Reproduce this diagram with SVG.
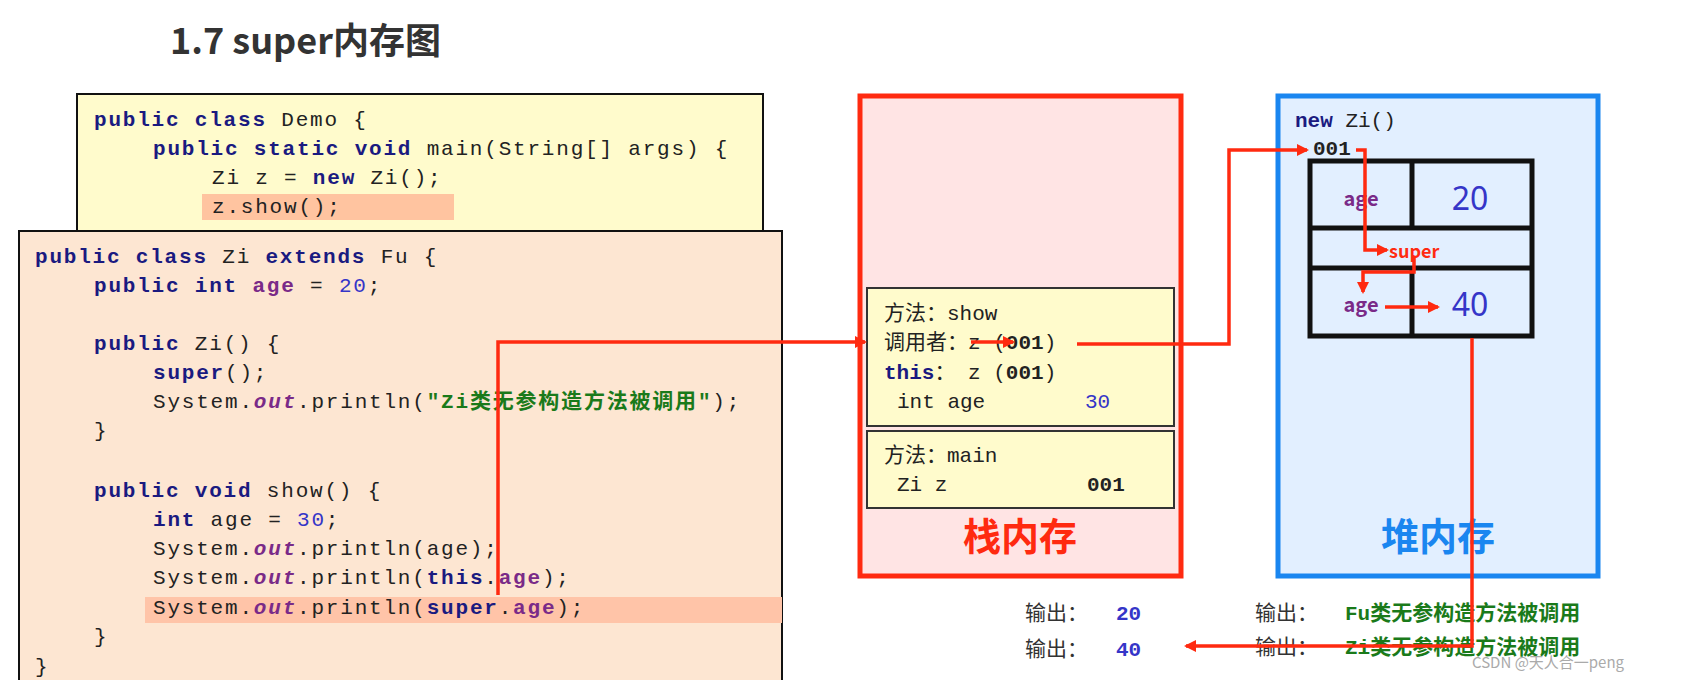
<svg xmlns="http://www.w3.org/2000/svg" width="1682" height="680" viewBox="0 0 1682 680">
<defs>
<marker id="ah" markerWidth="12" markerHeight="12" refX="10" refY="6" orient="auto" markerUnits="userSpaceOnUse"><path d="M0,0 L12,6 L0,12 z" fill="#ff2a10"/></marker>
<style>
.code{font-family:"Liberation Mono","Noto Sans CJK SC",monospace;font-size:21px;letter-spacing:1.8px;fill:#222}
.fr{font-family:"Liberation Mono","Noto Sans CJK SC",monospace;font-size:21px;fill:#222}
.out{font-family:"Noto Sans CJK SC",sans-serif;font-size:21px;fill:#333}
.k{fill:#1a1a80;font-weight:bold}
.p{fill:#7a2a88;font-weight:bold}
.o{fill:#7a2a88;font-style:italic;font-weight:bold}
.n{fill:#3535c8}
.g{fill:#1a7a1a;font-weight:bold}
.arr{fill:none;stroke:#ff2a10;stroke-width:3.5}
</style>
</defs>
<rect width="1682" height="680" fill="#fff"/>
<text x="170" y="54" font-family="Noto Sans CJK SC,sans-serif" font-size="36" font-weight="bold" fill="#333">1.7 super内存图</text>

<g id="demo">
<rect x="77" y="94" width="686" height="140" fill="#fffbcc" stroke="#111" stroke-width="2"/>
<rect x="202" y="194" width="252" height="26" fill="#ffc4a0"/>
<text class="code" x="94" y="126"><tspan class="k">public class</tspan> Demo {</text>
<text class="code" x="153" y="155"><tspan class="k">public static void</tspan> main(String[] args) {</text>
<text class="code" x="212" y="184">Zi z = <tspan class="k">new</tspan> Zi();</text>
<text class="code" x="212" y="213">z.show();</text>
</g>

<g id="zi">
<rect x="19" y="231" width="763" height="460" fill="#fde6d2" stroke="#111" stroke-width="2"/>
<rect x="145" y="597" width="637" height="26" fill="#ffc4a8"/>
<text class="code" x="35" y="263"><tspan class="k">public class</tspan> Zi <tspan class="k">extends</tspan> Fu {</text>
<text class="code" x="94" y="292"><tspan class="k">public int</tspan> <tspan class="p">age</tspan> = <tspan class="n">20</tspan>;</text>
<text class="code" x="94" y="350"><tspan class="k">public</tspan> Zi() {</text>
<text class="code" x="153" y="379"><tspan class="k">super</tspan>();</text>
<text class="code" x="153" y="408">System.<tspan class="o">out</tspan>.println(<tspan class="g">"Zi类无参构造方法被调用"</tspan>);</text>
<text class="code" x="94" y="437">}</text>
<text class="code" x="94" y="497"><tspan class="k">public void</tspan> show() {</text>
<text class="code" x="153" y="526"><tspan class="k">int</tspan> age = <tspan class="n">30</tspan>;</text>
<text class="code" x="153" y="555">System.<tspan class="o">out</tspan>.println(age);</text>
<text class="code" x="153" y="584">System.<tspan class="o">out</tspan>.println(<tspan class="k">this</tspan>.<tspan class="p">age</tspan>);</text>
<text class="code" x="153" y="614">System.<tspan class="o">out</tspan>.println(<tspan class="k">super</tspan>.<tspan class="p">age</tspan>);</text>
<text class="code" x="94" y="643">}</text>
<text class="code" x="35" y="673">}</text>
</g>

<g id="stack">
<rect x="860" y="96" width="321" height="480" fill="#ffe4e4" stroke="#ff2a10" stroke-width="5"/>
<text x="1020" y="550" text-anchor="middle" font-family="Noto Sans CJK SC,sans-serif" font-size="38" font-weight="bold" fill="#ff2a10">栈内存</text>
</g>
<g id="frame-show">
<rect x="867" y="288" width="307" height="138" fill="#fffbcc" stroke="#333" stroke-width="2"/>
<text class="fr" x="884" y="320">方法：show</text>
<text class="fr" x="884" y="349">调用者：z (<tspan font-weight="bold">001</tspan>)</text>
<text class="fr" x="884" y="379"><tspan class="k">this</tspan>： z (<tspan font-weight="bold">001</tspan>)</text>
<text class="fr" x="897" y="408">int age</text>
<text class="fr" x="1085" y="408" fill="#3535c8" style="fill:#3535c8">30</text>
</g>
<g id="frame-main">
<rect x="867" y="431" width="307" height="77" fill="#fffbcc" stroke="#333" stroke-width="2"/>
<text class="fr" x="884" y="462">方法：main</text>
<text class="fr" x="897" y="491">Zi z</text>
<text class="fr" x="1087" y="491" font-weight="bold">001</text>
</g>

<g id="heap">
<rect x="1278" y="96" width="320" height="480" fill="#e2efff" stroke="#1a86f0" stroke-width="5"/>
<text x="1438" y="550" text-anchor="middle" font-family="Noto Sans CJK SC,sans-serif" font-size="38" font-weight="bold" fill="#1a86f0">堆内存</text>
<text class="fr" x="1295" y="127" font-size="19"><tspan class="k">new</tspan> Zi()</text>
<text class="fr" x="1313" y="155" font-weight="bold" font-size="20">001</text>
</g>
<g id="object">
<rect x="1310" y="161" width="222" height="175" fill="#e2efff" stroke="#111" stroke-width="5"/>
<line x1="1310" y1="228" x2="1532" y2="228" stroke="#111" stroke-width="5"/>
<line x1="1310" y1="268" x2="1532" y2="268" stroke="#111" stroke-width="5"/>
<line x1="1412" y1="161" x2="1412" y2="228" stroke="#111" stroke-width="5"/>
<line x1="1412" y1="268" x2="1412" y2="336" stroke="#111" stroke-width="5"/>
<text x="1361" y="206" text-anchor="middle" font-family="Noto Sans CJK SC,sans-serif" font-size="20" font-weight="bold" fill="#7a2a88">age</text>
<text x="1470" y="210" text-anchor="middle" font-family="Noto Sans,sans-serif" font-size="32" fill="#3535c8">20</text>
<text x="1389" y="258" font-family="Noto Sans CJK SC,sans-serif" font-size="18" font-weight="bold" fill="#ff2a10">super</text>
<text x="1361" y="312" text-anchor="middle" font-family="Noto Sans CJK SC,sans-serif" font-size="20" font-weight="bold" fill="#7a2a88">age</text>
<text x="1470" y="316" text-anchor="middle" font-family="Noto Sans,sans-serif" font-size="32" fill="#3535c8">40</text>
</g>

<g id="outputs">
<text class="out" x="1025" y="620">输出：</text><text class="fr" x="1116" y="620" font-size="22" style="fill:#3535c8;font-weight:bold">20</text>
<text class="out" x="1025" y="656">输出：</text><text class="fr" x="1116" y="656" font-size="22" style="fill:#3535c8;font-weight:bold">40</text>
<text class="out" x="1255" y="620">输出：</text><text class="fr" x="1345" y="620" font-size="22" style="fill:#1a7a1a;font-weight:bold">Fu类无参构造方法被调用</text>
<text class="out" x="1255" y="654">输出：</text><text class="fr" x="1345" y="654" font-size="22" style="fill:#1a7a1a;font-weight:bold">Zi类无参构造方法被调用</text>
<text x="1472" y="668" font-family="Noto Sans CJK SC,sans-serif" font-size="15" fill="#aaa">CSDN @天人合一peng</text>
</g>

<g id="connectors">
<path class="arr" d="M498,595 V342 H865" marker-end="url(#ah)"/>
<path class="arr" d="M971,342 H1013" marker-end="url(#ah)"/>
<path class="arr" d="M1077,344 H1229 V150 H1307" marker-end="url(#ah)"/>
<path class="arr" d="M1356,150 H1365 V250 H1387" marker-end="url(#ah)"/>
<path class="arr" d="M1414,257 V272 H1363 V292" marker-end="url(#ah)"/>
<path class="arr" d="M1385,307 H1438" marker-end="url(#ah)"/>
<path class="arr" d="M1472,338 V646 H1186" marker-end="url(#ah)"/>
</g>
</svg>
